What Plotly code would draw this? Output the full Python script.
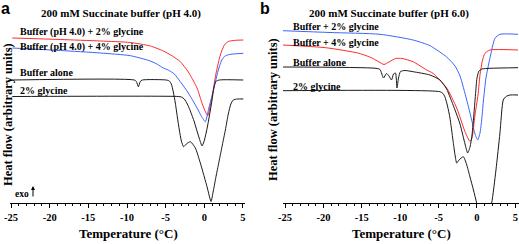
import plotly.graph_objects as go

# ---------------- data (temperature in °C, heat flow in arbitrary units) ----------------
# Panel a: 200 mM succinate buffer (pH 4.0)
a_red_t = [-24.83, -18.62, -13.45, -9.57, -6.98, -5.30, -4.14, -3.10, -2.07, -0.94, -0.26, 0.43,
           1.03, 1.55, 2.07, 2.59, 3.10, 4.01, 5.04]
a_red_y = [16.5, 16.35, 16.2, 16.05, 15.7, 15.2, 14.7, 14.13, 13.1, 11.5, 9.9, 8.73,
           10.8, 13.1, 14.8, 15.8, 16.15, 16.27, 16.3]

a_blue_t = [-24.83, -18.62, -13.45, -9.57, -6.98, -6.08, -5.30, -4.66, -3.88, -3.10, -2.07, -0.94,
            -0.39, 0.13, 0.58, 1.03, 1.42, 1.81, 2.20, 2.59, 3.23, 5.04]
a_blue_y = [15.5, 15.25, 15.0, 14.73, 14.2, 13.87, 13.5, 13.3, 12.9, 12.13, 11.0, 9.5,
            8.7, 8.13, 9.5, 10.8, 12.1, 13.3, 14.2, 14.65, 14.85, 14.97]

a_buf_t = [-24.83, -9.05, -8.79, -8.53, -8.28, -8.02, -4.91, -4.53, -4.27, -4.01, -3.75, -3.49,
           -3.23, -2.97, -2.68, -2.33, -1.81, -1.16, -0.52, 0.0, 0.39, 0.71, 0.87, 1.16, 1.55,
           1.94, 2.33, 2.72, 3.10, 3.43, 3.75, 4.27, 5.04]
a_buf_y = [12.3, 12.3, 12.15, 11.63, 12.15, 12.3, 12.3, 12.2, 11.9, 11.1, 10.0, 8.6,
           7.3, 6.2, 5.63, 5.9, 6.13, 5.5, 4.0, 2.6, 1.5, 0.5, 0.15, 1.2, 2.8,
           4.3, 5.8, 7.3, 8.9, 9.9, 10.3, 10.4, 10.4]

a_gly_t = [-24.83, -3.36, -2.97, -2.59, -2.20, -1.81, -1.29, -0.91, -0.52, -0.30, -0.06, 0.26,
           0.56, 0.78, 1.00, 1.23, 1.49, 1.94, 5.04]
a_gly_y = [10.65, 10.65, 10.6, 10.4, 9.9, 9.2, 8.1, 7.1, 6.15, 5.7, 6.1, 7.1,
           8.3, 9.3, 10.3, 11.5, 12.15, 12.3, 12.3]

# Panel b: 200 mM succinate buffer (pH 6.0)
b_blue_t = [-25.26, -19.14, -12.63, -8.33, -6.12, -3.95, -2.86, -2.21, -1.34, -0.69, -0.26, 0.09,
            0.39, 0.61, 0.82, 1.17, 1.69, 2.34, 2.99, 5.34]
b_blue_y = [17.23, 17.05, 16.87, 16.3, 15.73, 14.6, 13.7, 12.7, 10.3, 8.3, 6.9, 6.3,
            7.0, 8.3, 10.1, 12.5, 14.5, 16.47, 16.87, 16.87]

b_red_t = [-25.26, -19.70, -15.36, -13.67, -12.76, -12.11, -11.46, -10.59, -9.77, -8.33, -6.55, -5.73,
           -3.95, -2.64, -1.56, -0.91, -0.65, -0.26, 0.13, 0.39, 0.72, 1.04, 1.69, 5.34]
b_red_y = [15.8, 15.53, 14.97, 14.5, 14.1, 13.85, 14.1, 14.45, 14.45, 14.13, 13.3, 12.97,
           11.5, 9.5, 7.13, 6.15, 6.5, 8.8, 10.8, 12.8, 14.3, 14.97, 15.3, 15.3]

b_buf_t = [-25.26, -13.15, -12.63, -12.17, -11.78, -11.46, -11.13, -10.87, -10.61, -10.42, -10.22,
           -9.96, -9.38, -8.33, -6.12, -4.82, -3.95, -3.52, -2.86, -2.21, -1.56, -1.21, -0.91,
           -0.65, -0.39, -0.20, 0.0, 0.26, 0.65, 1.69, 5.34]
b_buf_y = [13.6, 13.47, 13.35, 12.5, 12.95, 12.7, 12.3, 12.9, 13.0, 11.5, 12.5,
           13.15, 13.25, 13.13, 12.8, 12.3, 11.4, 10.6, 9.3, 7.9, 5.9, 5.0, 5.6,
           6.8, 9.0, 10.8, 12.5, 13.2, 13.4, 13.47, 13.53]

b_gly_t = [-25.26, -4.82, -4.43, -4.17, -3.84, -3.52, -3.13, -2.86, -2.64, -2.34, -1.78, -1.37,
           -0.91, -0.46, -0.04, 0.39, 0.91, 1.43, 1.91, 2.47, 2.99, 3.42, 3.78, 4.30, 5.34]
b_gly_y = [11.23, 11.13, 10.95, 10.6, 9.7, 8.5, 6.3, 4.8, 4.0, 4.3, 4.63, 3.9,
           2.6, 1.3, 0.0, -1.3, -2.1, -1.3, 0.0, 3.3, 7.0, 10.3, 10.65, 10.8, 10.8]

tick_vals = [-25, -20, -15, -10, -5, 0, 5]
tick_text = ["-25", "-20", "-15", "-10", "-5", "0", "5"]

title_a = "200 mM Succinate buffer (pH 4.0)"
title_b = "200 mM Succinate buffer (pH 6.0)"
labels_a = ["Buffer (pH 4.0) + 2% glycine", "Buffer (pH 4.0) + 4% glycine", "Buffer alone", "2% glycine"]
labels_b = ["Buffer + 2% glycine", "Buffer + 4% glycine", "Buffer alone", "2% glycine"]
x_title = "Temperature (°C)"
y_title = "Heat flow (arbitrary units)"

# ---------------- figure ----------------
W, H = 519, 244
TOP, BOT = 25, 203
RED, BLUE, BLACK = "#ff2a2a", "#3c64ff", "#1a1a1a"
SERIF = "Liberation Serif"

fig = go.Figure()

def add(t, y, color, xa, ya, name):
    fig.add_trace(go.Scatter(x=t, y=y, mode="lines", name=name, xaxis=xa, yaxis=ya,
                             line=dict(color=color, width=1, shape="spline", smoothing=0.6),
                             showlegend=False, hoverinfo="skip"))

add(a_red_t, a_red_y, RED, "x", "y", labels_a[0])
add(a_blue_t, a_blue_y, BLUE, "x", "y", labels_a[1])
add(a_buf_t, a_buf_y, BLACK, "x", "y", labels_a[2])
add(a_gly_t, a_gly_y, BLACK, "x", "y", labels_a[3])
add(b_blue_t, b_blue_y, BLUE, "x2", "y2", labels_b[0])
add(b_red_t, b_red_y, RED, "x2", "y2", labels_b[1])
add(b_buf_t, b_buf_y, BLACK, "x2", "y2", labels_b[2])
add(b_gly_t, b_gly_y, BLACK, "x2", "y2", labels_b[3])

xcommon = dict(showline=True, linecolor="black", linewidth=1, showgrid=False, zeroline=False,
               ticks="outside", ticklen=4, tickwidth=1, tickcolor="black",
               tickvals=tick_vals, ticktext=tick_text,
               minor=dict(ticks="outside", ticklen=2, tickwidth=1, tickcolor="black", dtick=1),
               tickfont=dict(family=SERIF, size=10.5, color="black", weight="bold"))
ycommon = dict(visible=False, range=[0, 17.8], showgrid=False, zeroline=False, fixedrange=True)

def px(x):
    return x / W

def py(y):
    return (BOT - y) / (BOT - TOP)

fig.update_layout(
    width=W, height=H, margin=dict(l=0, r=0, t=TOP, b=H - BOT, autoexpand=False),
    paper_bgcolor="white", plot_bgcolor="white",
    xaxis=dict(domain=[px(10), px(245)], range=[-25.13, 5.26], anchor="y", **xcommon),
    xaxis2=dict(domain=[px(283), px(519)], range=[-25.26, 5.47], anchor="y2", **xcommon),
    yaxis=dict(domain=[0, 1], anchor="x", **ycommon),
    yaxis2=dict(domain=[0, 1], anchor="x2", **ycommon),
)

ann = []

def text(s, x, y, size, xanchor="center", angle=0, family=SERIF):
    ann.append(dict(text=s, x=px(x), y=py(y), xref="paper", yref="paper", showarrow=False,
                    xanchor=xanchor, yanchor="middle", textangle=angle,
                    font=dict(family=family, size=size, color="black", weight="bold")))

text("a", 5, 8, 16, family="Liberation Sans")
text("b", 265, 8, 16, family="Liberation Sans")
text(title_a, 121, 13, 11)
text(title_b, 389, 13, 11)
for s, yy in zip(labels_a, [32, 47, 72.5, 90.5]):
    text(s, 18, yy, 10, xanchor="left")
for s, yy in zip(labels_b, [26, 42, 62.5, 86]):
    text(s, 291, yy, 10, xanchor="left")
text(x_title, 128, 233, 13)
text(x_title, 401, 233, 13)
text(y_title, 8, 115, 12.5, angle=-90)
text(y_title, 273, 110, 12.5, angle=-90)
text("exo", 22, 194, 9.5)
ann.append(dict(text="", x=px(33), y=py(186), xref="paper", yref="paper", showarrow=True,
                ax=0, ay=12, arrowhead=2, arrowsize=0.8, arrowwidth=1, arrowcolor="black"))

fig.update_layout(annotations=ann)
fig.write_html("out.html", config={"displayModeBar": False},
               post_script="document.body.style.margin='0';document.body.style.padding='0';")
